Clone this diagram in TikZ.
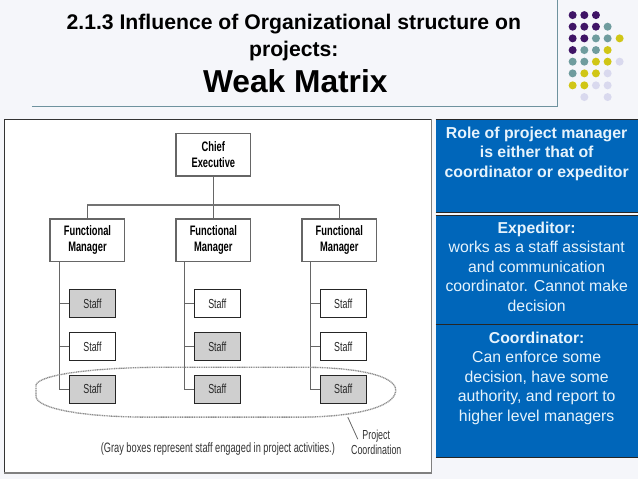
\documentclass[tikz,border=0pt]{standalone}
\usepackage{fontspec}
\setmainfont{Liberation Sans}
\newfontfamily\narrowfont[FakeStretch=0.68]{Liberation Sans}
\usetikzlibrary {positioning,calc}
\definecolor{slidebg}{HTML}{F5F6FA}
\definecolor{panelblue}{HTML}{0066BA}
\definecolor{paneltext}{HTML}{E6F3FC}
\definecolor{rulecol}{HTML}{6E929E}
\definecolor{dotpurple}{HTML}{3F1466}
\definecolor{dotteal}{HTML}{6F9C9E}
\definecolor{dotyellow}{HTML}{D0C616}
\definecolor{dotlav}{HTML}{D9D9EE}
\definecolor{staffgray}{HTML}{CFCFCF}

\begin{document}
\begin{tikzpicture}[x=0.75pt, y=-0.75pt,
dot/.style={circle, fill=#1, inner sep=0pt, minimum size=6pt},
headbox/.style={draw=black!60, line width=1pt, fill=white, minimum width=56pt, minimum height=32pt, outer sep=0pt, align=center, font=\narrowfont\bfseries\fontsize{10.3}{12}\selectfont},
staffbox/.style={draw=black!85, line width=0.7pt, fill=white, minimum width=34.5pt, minimum height=21pt, outer sep=0pt, font=\narrowfont\fontsize{9.8}{11}\selectfont, text=black!85},
grayed/.style={fill=staffgray},
link/.style={draw=black!60, line width=0.8pt},
bar/.style={draw=black!55, line width=1.4pt},
paneltxt/.style={text=paneltext, align=center, font=\fontsize{11.85}{14.6}\selectfont},
note/.style={text=black!80, align=center, font=\narrowfont\fontsize{9.8}{11.5}\selectfont}]

\fill[slidebg] (0,0) rectangle (638,479);

% title
\node[align=center, font=\bfseries\fontsize{15.9}{20.2}\selectfont] (title) at (294,37) {2.1.3 Influence of Organizational structure on\\projects:};
\node[font=\bfseries\fontsize{23.8}{28}\selectfont] (weak) at (295.5,81) {Weak Matrix};
\coordinate (ruleL) at (32,106);
\coordinate (ruleR) at (558,106);
\coordinate (ruleT) at (558,0);
\draw[rulecol, line width=0.6pt] (ruleL) -- (ruleR) -- (ruleT);

% dots
\node[dot=dotpurple] (d11) at (573,14.7) {}; \node[dot=dotpurple] (d12) at (584.7,14.7) {}; \node[dot=dotpurple] (d13) at (596.3,14.7) {};
\node[dot=dotpurple] (d21) at (573,26.3) {}; \node[dot=dotpurple] (d22) at (584.7,26.3) {}; \node[dot=dotpurple] (d23) at (596.3,26.3) {}; \node[dot=dotteal] (d24) at (608,26.3) {};
\node[dot=dotpurple] (d31) at (573,38) {}; \node[dot=dotpurple] (d32) at (584.7,38) {}; \node[dot=dotteal] (d33) at (596.3,38) {}; \node[dot=dotteal] (d34) at (608,38) {}; \node[dot=dotyellow] (d35) at (620,38) {};
\node[dot=dotpurple] (d41) at (573,49.7) {}; \node[dot=dotteal] (d42) at (584.7,49.7) {}; \node[dot=dotteal] (d43) at (596.3,49.7) {}; \node[dot=dotyellow] (d44) at (608,49.7) {};
\node[dot=dotteal] (d51) at (573,61.3) {}; \node[dot=dotteal] (d52) at (584.7,61.3) {}; \node[dot=dotyellow] (d53) at (596.3,61.3) {}; \node[dot=dotyellow] (d54) at (608,61.3) {}; \node[dot=dotlav] (d55) at (620,61.3) {};
\node[dot=dotteal] (d61) at (573,73) {}; \node[dot=dotyellow] (d62) at (584.7,73) {}; \node[dot=dotyellow] (d63) at (596.3,73) {}; \node[dot=dotlav] (d64) at (608,73) {};
\node[dot=dotyellow] (d71) at (573,85) {}; \node[dot=dotyellow] (d72) at (584.7,85) {}; \node[dot=dotlav] (d73) at (596.3,85) {}; \node[dot=dotlav] (d74) at (608,85) {};
\node[dot=dotlav] (d82) at (584.7,96.7) {}; \node[dot=dotlav] (d84) at (608,96.7) {};

% chart frame
\fill[white] (4.5,119) rectangle (432,473);
\draw[black!80, line width=0.7pt] (432,119) -- (4.5,119) -- (4.5,473);
\draw[black!50, line width=1pt] (4.5,473) -- (432,473) -- (432,119);

% blue panels
\fill[panelblue] (436,119) rectangle (638,212);
\fill[panelblue] (436,215) rectangle (638,324);
\fill[panelblue] (436,324) rectangle (638,457);
\draw[black!85, line width=0.6pt] (436,119) -- (638,119);
\draw[black!85, line width=0.6pt] (436,212) -- (638,212);
\draw[black!85, line width=0.6pt] (436,215) -- (638,215);
\draw[black!85, line width=0.6pt] (436,324) -- (638,324);
\draw[black!85, line width=0.6pt] (436,457) -- (638,457);
\node[paneltxt, font=\bfseries\fontsize{11.9}{14.6}\selectfont] (role) at (537,153.5) {Role of project manager\\is either that of\\coordinator or expeditor};
\node[paneltxt] (expeditor) at (537,266.5) {\textbf{Expeditor:}\\works as a staff assistant\\and communication\\coordinator. Cannot make\\decision};
\node[paneltxt] (coordinator) at (537,378) {\textbf{Coordinator:}\\Can enforce some\\decision, have some\\authority, and report to\\higher level managers};

% org chart
\node[headbox] (chief) at (213.5,154.5) {Chief\\Executive};
\node[headbox] (fm1) at (87.5,240) {Functional\\Manager};
\node[headbox] (fm2) at (213.5,240) {Functional\\Manager};
\node[headbox] (fm3) at (339.5,240) {Functional\\Manager};

\node[staffbox, grayed] (s11) at (92.5,303.5) {Staff};
\node[staffbox] (s12) at (92.5,346.5) {Staff};
\node[staffbox, grayed] (s13) at (92.5,389) {Staff};
\node[staffbox] (s21) at (217.5,303.5) {Staff};
\node[staffbox, grayed] (s22) at (217.5,346.5) {Staff};
\node[staffbox, grayed] (s23) at (217.5,389) {Staff};
\node[staffbox] (s31) at (343.5,303.5) {Staff};
\node[staffbox] (s32) at (343.5,346.5) {Staff};
\node[staffbox, grayed] (s33) at (343.5,389) {Staff};

\coordinate (hub) at (213.5,205);
\draw[link] (chief) -- (fm2);
\draw[bar] (fm1.north |- hub) -- (fm3.north |- hub);
\draw[link] (fm1.north |- hub) -- (fm1);
\draw[link] (fm3.north |- hub) -- (fm3);

\coordinate (t1) at (59.5,261.5);
\coordinate (t2) at (185,261.5);
\coordinate (t3) at (310.7,261.5);
\draw[link] (t1) -- (t1 |- s13) -- (s13);
\draw[link] (t1 |- s11) -- (s11);
\draw[link] (t1 |- s12) -- (s12);
\draw[link] (t2) -- (t2 |- s23) -- (s23);
\draw[link] (t2 |- s21) -- (s21);
\draw[link] (t2 |- s22) -- (s22);
\draw[link] (t3) -- (t3 |- s33) -- (s33);
\draw[link] (t3 |- s31) -- (s31);
\draw[link] (t3 |- s32) -- (s32);

% project coordination loop
\draw[black!45, dash pattern=on 0.8pt off 0.5pt, line width=1pt] (36,385) .. controls (38,375) and (90,367) .. (170,367) -- (300,367) .. controls (360,367) and (396,376) .. (396,390) .. controls (396,408) and (350,417) .. (300,417) -- (150,417) .. controls (80,417) and (36,408) .. (36,396) -- cycle;
\coordinate (loopfoot) at (348,417);
\coordinate (notefoot) at (358,439);
\draw[black!60, line width=0.6pt] (loopfoot) -- (notefoot);
\node[note] (project) at (376.5,442) {Project\\Coordination};
\node[note, font=\narrowfont\fontsize{10.2}{12}\selectfont] (graynote) at (218,448.5) {(Gray boxes represent staff engaged in project activities.)};

\end{tikzpicture}
\end{document}
